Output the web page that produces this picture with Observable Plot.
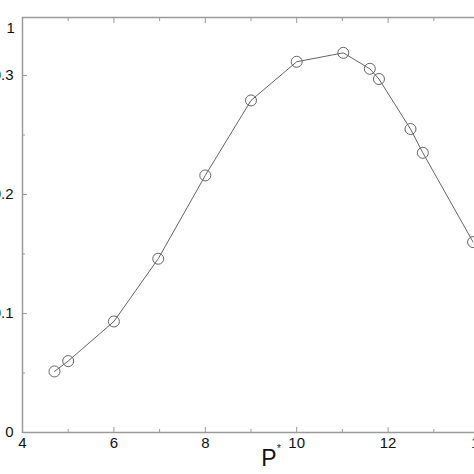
<!DOCTYPE html>
<html>
<head>
<meta charset="utf-8">
<script src="https://cdn.jsdelivr.net/npm/d3@7"></script>
<script src="https://cdn.jsdelivr.net/npm/@observablehq/plot@0.6"></script>
<style>
  html, body { margin: 0; padding: 0; background: #fff; overflow: hidden; }
  svg { display: block; }
</style>
</head>
<body>
<div id="chart"></div>
<script>
const pStar = [4.70, 5.0, 6.0, 6.97, 8.0, 9.0, 10.0, 11.02, 11.6, 11.8, 12.49, 12.76, 13.86];
const values = [0.0513, 0.060, 0.0933, 0.146, 0.216, 0.279, 0.3115, 0.319, 0.3056, 0.297, 0.255, 0.235, 0.160];
const xMajor = [4, 6, 8, 10, 12, 14];
const xMinor = [5, 7, 9, 11, 13];
const yMajor = [0, 0.1, 0.2, 0.3];
const yMinor = [0.05, 0.15, 0.25];
const xLabel = "P";
const xLabelSup = "*";
const topLabel = "1";

const data = pStar.map((x, i) => ({x, y: values[i]}));
const axisColor = "#9a9a9a";
const fmtY = d => d === 0 ? "0" : d3.format(".1f")(d);
const none = () => "";

const chart = Plot.plot({
  width: 474,
  height: 474,
  marginLeft: 22,
  marginRight: -5,
  marginTop: 17,
  marginBottom: 42,
  style: {fontFamily: "'Liberation Sans', Arial, sans-serif", background: "#fff"},
  x: {domain: [4, 14]},
  y: {domain: [0, 0.3487]},
  marks: [
    Plot.frame({stroke: axisColor, strokeWidth: 1.5}),
    // inward major/minor ticks on bottom and top
    Plot.axisX(xMajor, {anchor: "bottom", tickSize: -5, tickFormat: none, stroke: axisColor, label: null}),
    Plot.axisX(xMinor, {anchor: "bottom", tickSize: -3, tickFormat: none, stroke: axisColor, label: null}),
    Plot.axisX(xMajor, {anchor: "top", tickSize: -5, tickFormat: none, stroke: axisColor, label: null}),
    Plot.axisX(xMinor, {anchor: "top", tickSize: -3, tickFormat: none, stroke: axisColor, label: null}),
    Plot.axisY(yMajor, {anchor: "left", tickSize: -5, tickFormat: none, stroke: axisColor, label: null}),
    Plot.axisY(yMinor, {anchor: "left", tickSize: -3, tickFormat: none, stroke: axisColor, label: null}),
    // labels
    Plot.axisX(xMajor, {anchor: "bottom", tickSize: 0, tickPadding: 5, fontSize: 15, fill: "#111", label: null}),
    Plot.axisY(yMajor, {anchor: "left", tickSize: 0, tickPadding: 9, fontSize: 15, fill: "#111", tickFormat: fmtY, label: null}),
    Plot.text([xLabel], {frameAnchor: "bottom", dx: 18, dy: 33, text: d => d, fontSize: 23, fill: "#111"}),
    Plot.text([xLabelSup], {frameAnchor: "bottom", dx: 28, dy: 19, text: d => d, fontSize: 10, fill: "#111"}),
    Plot.text([topLabel], {frameAnchor: "top-left", dx: -16, dy: 5, text: d => d, fontSize: 15, fill: "#111"}),
    // data
    Plot.line(data, {x: "x", y: "y", stroke: "#666", strokeWidth: 1}),
    Plot.dot(data, {x: "x", y: "y", r: 5.5, stroke: "#666", strokeWidth: 1, fill: "none"})
  ]
});
document.getElementById("chart").appendChild(chart);
</script>
</body>
</html>
